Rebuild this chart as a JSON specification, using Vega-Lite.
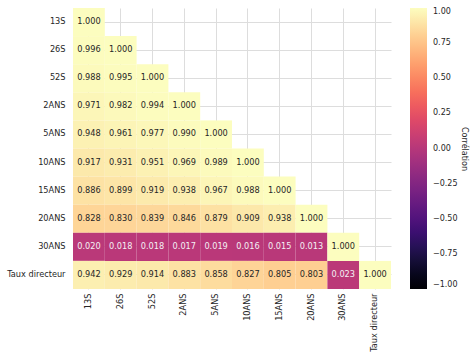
{
  "$schema": "https://vega.github.io/schema/vega-lite/v6.json",
  "width": 318,
  "height": 281,
  "autosize": {"type": "none"},
  "padding": {"left": 73, "top": 8, "right": 83, "bottom": 66},
  "background": "white",
  "config": {
    "view": {"stroke": null},
    "font": "DejaVu Sans",
    "axis": {"labelFont": "DejaVu Sans", "labelFontSize": 8.2, "labelColor": "#262626", "domain": false, "ticks": false, "gridColor": "#dddddd", "gridWidth": 1, "bandPosition": 0.5, "title": null, "zindex": 0}
  },
  "data": {"values": [
    {"r": "13S", "c": "13S", "v": 1.000},
    {"r": "26S", "c": "13S", "v": 0.996}, {"r": "26S", "c": "26S", "v": 1.000},
    {"r": "52S", "c": "13S", "v": 0.988}, {"r": "52S", "c": "26S", "v": 0.995}, {"r": "52S", "c": "52S", "v": 1.000},
    {"r": "2ANS", "c": "13S", "v": 0.971}, {"r": "2ANS", "c": "26S", "v": 0.982}, {"r": "2ANS", "c": "52S", "v": 0.994}, {"r": "2ANS", "c": "2ANS", "v": 1.000},
    {"r": "5ANS", "c": "13S", "v": 0.948}, {"r": "5ANS", "c": "26S", "v": 0.961}, {"r": "5ANS", "c": "52S", "v": 0.977}, {"r": "5ANS", "c": "2ANS", "v": 0.990}, {"r": "5ANS", "c": "5ANS", "v": 1.000},
    {"r": "10ANS", "c": "13S", "v": 0.917}, {"r": "10ANS", "c": "26S", "v": 0.931}, {"r": "10ANS", "c": "52S", "v": 0.951}, {"r": "10ANS", "c": "2ANS", "v": 0.969}, {"r": "10ANS", "c": "5ANS", "v": 0.989}, {"r": "10ANS", "c": "10ANS", "v": 1.000},
    {"r": "15ANS", "c": "13S", "v": 0.886}, {"r": "15ANS", "c": "26S", "v": 0.899}, {"r": "15ANS", "c": "52S", "v": 0.919}, {"r": "15ANS", "c": "2ANS", "v": 0.938}, {"r": "15ANS", "c": "5ANS", "v": 0.967}, {"r": "15ANS", "c": "10ANS", "v": 0.988}, {"r": "15ANS", "c": "15ANS", "v": 1.000},
    {"r": "20ANS", "c": "13S", "v": 0.828}, {"r": "20ANS", "c": "26S", "v": 0.830}, {"r": "20ANS", "c": "52S", "v": 0.839}, {"r": "20ANS", "c": "2ANS", "v": 0.846}, {"r": "20ANS", "c": "5ANS", "v": 0.879}, {"r": "20ANS", "c": "10ANS", "v": 0.909}, {"r": "20ANS", "c": "15ANS", "v": 0.938}, {"r": "20ANS", "c": "20ANS", "v": 1.000},
    {"r": "30ANS", "c": "13S", "v": 0.020}, {"r": "30ANS", "c": "26S", "v": 0.018}, {"r": "30ANS", "c": "52S", "v": 0.018}, {"r": "30ANS", "c": "2ANS", "v": 0.017}, {"r": "30ANS", "c": "5ANS", "v": 0.019}, {"r": "30ANS", "c": "10ANS", "v": 0.016}, {"r": "30ANS", "c": "15ANS", "v": 0.015}, {"r": "30ANS", "c": "20ANS", "v": 0.013}, {"r": "30ANS", "c": "30ANS", "v": 1.000},
    {"r": "Taux directeur", "c": "13S", "v": 0.942}, {"r": "Taux directeur", "c": "26S", "v": 0.929}, {"r": "Taux directeur", "c": "52S", "v": 0.914}, {"r": "Taux directeur", "c": "2ANS", "v": 0.883}, {"r": "Taux directeur", "c": "5ANS", "v": 0.858}, {"r": "Taux directeur", "c": "10ANS", "v": 0.827}, {"r": "Taux directeur", "c": "15ANS", "v": 0.805}, {"r": "Taux directeur", "c": "20ANS", "v": 0.803}, {"r": "Taux directeur", "c": "30ANS", "v": 0.023}, {"r": "Taux directeur", "c": "Taux directeur", "v": 1.000}
  ]},
  "encoding": {
    "x": {"field": "c", "type": "ordinal", "sort": ["13S", "26S", "52S", "2ANS", "5ANS", "10ANS", "15ANS", "20ANS", "30ANS", "Taux directeur"],
      "scale": {"paddingInner": 0, "paddingOuter": 0},
      "axis": {"labelAngle": -90, "labelPadding": 4, "grid": true}},
    "y": {"field": "r", "type": "ordinal", "sort": ["13S", "26S", "52S", "2ANS", "5ANS", "10ANS", "15ANS", "20ANS", "30ANS", "Taux directeur"],
      "scale": {"paddingInner": 0, "paddingOuter": 0},
      "axis": {"labelPadding": 8, "grid": true}}
  },
  "layer": [
    {
      "mark": {"type": "rect"},
      "encoding": {
        "color": {"field": "v", "type": "quantitative",
          "scale": {"scheme": "magma", "domain": [-1, 1]},
          "legend": {"title": "Corrélation", "orient": "right", "offset": 19, "padding": 0,
            "gradientLength": 281, "gradientThickness": 17, "gradientStrokeWidth": 0,
            "values": [-1, -0.75, -0.5, -0.25, 0, 0.25, 0.5, 0.75, 1], "format": ".2f",
            "labelFont": "DejaVu Sans", "labelFontSize": 8, "labelColor": "#262626", "labelOffset": 6,
            "titleOrient": "right", "titleAngle": -90, "titleAnchor": "middle", "titleBaseline": "bottom",
            "titleFont": "DejaVu Sans", "titleFontSize": 8, "titleFontWeight": "normal", "titleColor": "#262626", "titlePadding": 2}}
      }
    },
    {
      "mark": {"type": "text", "font": "DejaVu Sans", "fontSize": 8.2},
      "encoding": {
        "text": {"field": "v", "type": "quantitative", "format": ".3f"},
        "color": {"condition": {"test": "datum.v < 0.5", "value": "#f4f0f4"}, "value": "#262626"}
      }
    }
  ]
}
